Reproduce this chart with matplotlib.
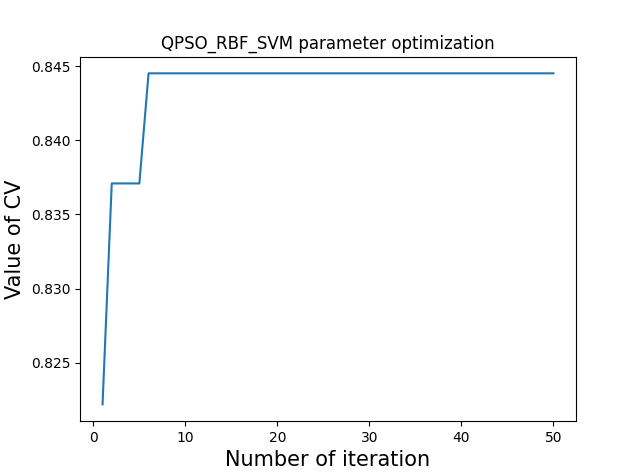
import matplotlib
matplotlib.use("Agg")
import matplotlib.pyplot as plt

iterations = list(range(1, 51))
cv_values = [0.8222] + [0.83709] * 4 + [0.84451] * 45

fig, ax = plt.subplots(figsize=(6.4, 4.73), dpi=100)
ax.plot(iterations, cv_values)
ax.set_title("QPSO_RBF_SVM parameter optimization")
ax.set_xlabel("Number of iteration", fontsize=15)
ax.set_ylabel("Value of CV", fontsize=15)
fig.savefig("out.png")
